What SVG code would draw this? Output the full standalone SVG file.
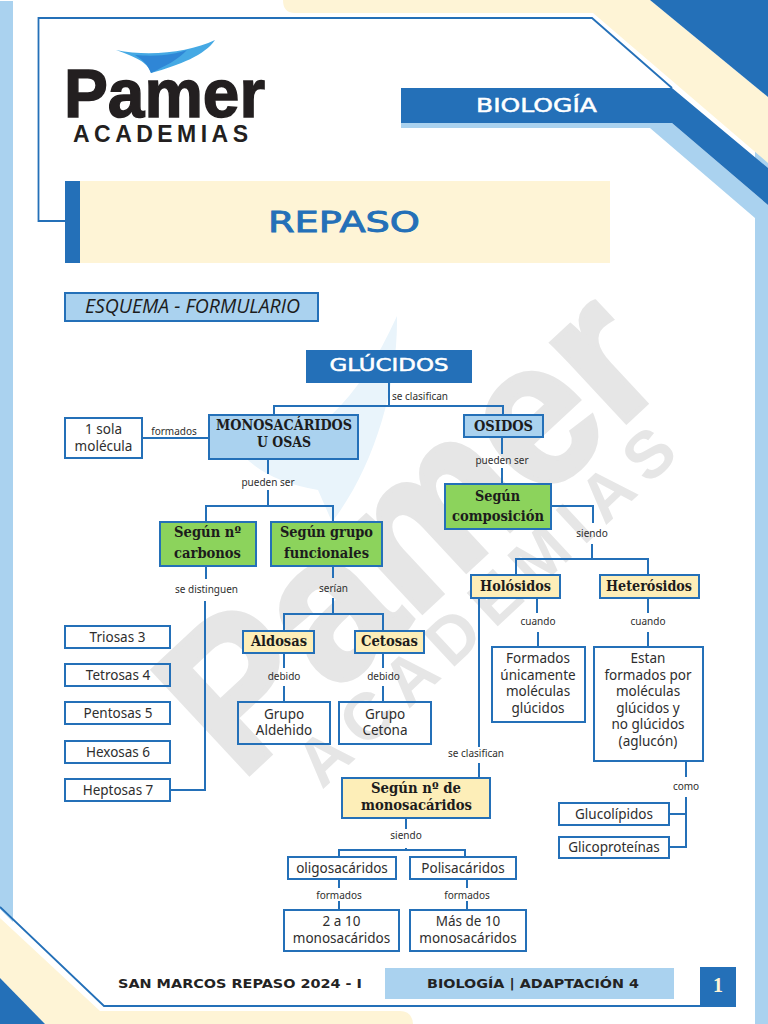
<svg xmlns="http://www.w3.org/2000/svg" width="768" height="1024" viewBox="0 0 768 1024">
<style>
.b{fill:none;stroke:#2470b8;stroke-width:2}
.n{stroke:#2470b8;stroke-width:2}
.w{fill:none}.lb{fill:#aad2ef}.gr{fill:#8cd35c}.cr{fill:#fdeeb8}
text{font-family:"Noto Sans","Liberation Sans",sans-serif}
.t{font-size:13.5px;fill:#2e2e2e;text-anchor:middle}
.l{font-size:10px;fill:#2e2e2e;text-anchor:middle}
.s{font-family:"DejaVu Serif","Liberation Serif",serif;font-weight:700;font-size:14.5px;fill:#1c1c1c;text-anchor:middle}
.h{font-family:"DejaVu Sans","Liberation Sans",sans-serif;font-weight:400;text-anchor:middle}
.f{font-family:"DejaVu Sans","Liberation Sans",sans-serif;font-weight:700;font-size:12.5px;fill:#232323}
</style>
<rect width="768" height="1024" fill="#fff"/>
<g id="background">
<path d="M0,1H13V922L0,909Z" fill="#aad2ef"/>
<path d="M755,218L650,128H401V123H672L768,205V1024H755Z" fill="#aad2ef"/>
<path d="M755,151L768,162V176L755,165Z" fill="#aad2ef"/>
<path d="M283,0H650L768,97V163L593,13H295Q283,13 283,0Z" fill="#fef4d6"/>
<path d="M650,0H768V97Z" fill="#2470b8"/>
<path d="M401,88H672L768,168V205L672,123H401Z" fill="#2470b8"/>
<path d="M0,918L100,1011H400Q412,1011 413,1024H45L0,978Z" fill="#fef4d6"/>
<path d="M0,978L45,1024H0Z" fill="#2470b8"/>
<path d="M66,221H38.500V18H592L672,88" fill="none" stroke="#2470b8" stroke-width="1.800"/>
<path d="M0,907L104,1006H706" fill="none" stroke="#2470b8" stroke-width="1.800"/>
</g>
<g id="watermark">
<path d="M397,316C398,390 372,470 332,522L318,490C275,482 250,468 232,442C290,462 350,420 397,316Z" fill="#e9f4fb"/>
<text transform="translate(240,782) rotate(-43)" textLength="590" lengthAdjust="spacingAndGlyphs" style="font-family:'Liberation Sans',sans-serif;font-weight:700;font-size:205px;fill:#e6e6e6;stroke:#e6e6e6;stroke-width:5">Pamer</text>
<text transform="translate(322,790) rotate(-43)" textLength="490" style="font-family:'Liberation Sans',sans-serif;font-weight:700;font-size:66px;fill:#e6e6e6">ACADEMIAS</text>
</g>
<g id="logo">
<path d="M116,50C150,57 190,52 215,40C205,55 180,65 151,73C148,62 135,57 116,50Z" fill="#45a9e4"/>
<path d="M135,55C160,57 175,54 187,50C178,60 165,66 151,73C148,65 143,60 135,55Z" fill="#2f86d6"/>
<text x="64" y="117" textLength="201" lengthAdjust="spacingAndGlyphs" style="font-family:'Liberation Sans',sans-serif;font-weight:700;font-size:68px;fill:#231f20;stroke:#231f20;stroke-width:1.500">Pamer</text>
<text x="73" y="142" textLength="175" style="font-family:'Liberation Sans',sans-serif;font-weight:700;font-size:23px;fill:#231f20">ACADEMIAS</text>
</g>
<g id="banner-biologia"><text class="h" x="536.500" y="112" textLength="121" lengthAdjust="spacingAndGlyphs" style="font-size:20px;fill:#fff;stroke:#fff;stroke-width:.5">BIOLOGÍA</text></g>
<g id="title">
<rect x="65" y="181" width="15" height="82" fill="#2470b8"/><rect x="80" y="181" width="530" height="82" fill="#fef4d6"/>
<text class="h" x="344" y="232" textLength="152" lengthAdjust="spacingAndGlyphs" style="font-size:29px;fill:#2470b8;stroke:#2470b8;stroke-width:.9">REPASO</text>
</g>
<g id="esquema">
<rect class="n lb" x="65" y="293" width="253" height="28"/>
<text x="192.500" y="313" text-anchor="middle" textLength="215" lengthAdjust="spacingAndGlyphs" style="font-family:'Open Sans',sans-serif;font-style:italic;font-weight:500;font-size:20px;fill:#1c1c1c">ESQUEMA - FORMULARIO</text>
</g>
<g id="connectors">
<path class="b" d="M389,383V406M274,414V406H503V414" stroke-width="1.500"/>
<path class="b" d="M142,438H209M268,459V474M268,490V506M206,521V506H333V521M206,566V579M205,601V790H171"/>
<path class="b" d="M333,566V578M333,598V614M284,630V614H383V630M284,653V668M284,686V702M383,653V668M383,686V702"/>
<path class="b" d="M502,437V454M502,468V484M551,506H593V523M592,544V559M516,575V559H648V575"/>
<path class="b" d="M479,598V747M479,763V777M537,598V613M538,632V647M648,598V613M648,632V647M686,761V777M686,797V847H669M686,814H669"/>
<path class="b" d="M406,818V829M406,848V850M339,857V850H465V857M339,879V888M339,901V910M467,879V888M467,901V910"/>
</g>
<g id="labels">
<text class="l" x="420" y="400">se clasifican</text>
<text class="l" x="174" y="435">formados</text>
<text class="l" x="268" y="486">pueden ser</text>
<text class="l" x="502" y="464">pueden ser</text>
<text class="l" x="206.500" y="593">se distinguen</text>
<text class="l" x="333.500" y="592">serían</text>
<text class="l" x="592" y="537">siendo</text>
<text class="l" x="284" y="680">debido</text>
<text class="l" x="383.500" y="680">debido</text>
<text class="l" x="538" y="625">cuando</text>
<text class="l" x="648" y="625">cuando</text>
<text class="l" x="476" y="757">se clasifican</text>
<text class="l" x="686" y="790">como</text>
<text class="l" x="406" y="839">siendo</text>
<text class="l" x="339" y="899">formados</text>
<text class="l" x="467" y="899">formados</text>
</g>
<g id="glucidos"><rect x="306" y="350" width="166" height="33" fill="#2470b8"/><text class="h" x="389" y="371" textLength="119" lengthAdjust="spacingAndGlyphs" style="font-size:17.500px;fill:#fff;stroke:#fff;stroke-width:.5">GLÚCIDOS</text></g>
<g id="monosacaridos"><rect class="n lb" x="209" y="415" width="149" height="44"/><text class="s" x="284" y="430" textLength="136" lengthAdjust="spacingAndGlyphs">MONOSACÁRIDOS</text><text class="s" x="284" y="447" textLength="54" lengthAdjust="spacingAndGlyphs">U OSAS</text></g>
<g id="sola"><rect class="n w" x="65" y="418" width="77" height="40"/><text class="t" x="103.500" y="434">1 sola</text><text class="t" x="103.500" y="451">molécula</text></g>
<g id="osidos"><rect class="n lb" x="464" y="415" width="79" height="22"/><text class="s" x="503.500" y="431" textLength="59" lengthAdjust="spacingAndGlyphs">OSIDOS</text></g>
<g id="segun-carbonos"><rect class="n gr" x="160" y="522" width="96" height="44"/><text class="s" x="207.500" y="537" textLength="67" lengthAdjust="spacingAndGlyphs">Según nº</text><text class="s" x="207.500" y="558" textLength="67" lengthAdjust="spacingAndGlyphs">carbonos</text></g>
<g id="segun-grupo"><rect class="n gr" x="271" y="522" width="111" height="44"/><text class="s" x="326.500" y="537" textLength="93" lengthAdjust="spacingAndGlyphs">Según grupo</text><text class="s" x="326.500" y="558" textLength="85" lengthAdjust="spacingAndGlyphs">funcionales</text></g>
<g id="segun-composicion"><rect class="n gr" x="445" y="484" width="106" height="45"/><text class="s" x="497.500" y="501" textLength="45" lengthAdjust="spacingAndGlyphs">Según</text><text class="s" x="498" y="521" textLength="92" lengthAdjust="spacingAndGlyphs">composición</text></g>
<g id="holosidos"><rect class="n cr" x="471" y="575" width="89" height="23"/><text class="s" x="515.500" y="591" textLength="71" lengthAdjust="spacingAndGlyphs">Holósidos</text></g>
<g id="heterosidos"><rect class="n cr" x="600" y="575" width="99" height="23"/><text class="s" x="649" y="591" textLength="86" lengthAdjust="spacingAndGlyphs">Heterósidos</text></g>
<g id="aldosas"><rect class="n cr" x="243" y="631" width="71" height="22"/><text class="s" x="279" y="646" textLength="56" lengthAdjust="spacingAndGlyphs">Aldosas</text></g>
<g id="cetosas"><rect class="n cr" x="355" y="631" width="69" height="22"/><text class="s" x="389.500" y="646" textLength="57" lengthAdjust="spacingAndGlyphs">Cetosas</text></g>
<g id="aldehido"><rect class="n w" x="238" y="702" width="92" height="42"/><text class="t" x="284" y="719">Grupo</text><text class="t" x="284" y="735">Aldehido</text></g>
<g id="cetona"><rect class="n w" x="339" y="702" width="92" height="42"/><text class="t" x="385" y="719">Grupo</text><text class="t" x="385" y="735">Cetona</text></g>
<g id="triosas"><rect class="n w" x="65" y="626" width="105" height="22"/><text class="t" x="117.500" y="642">Triosas 3</text></g>
<g id="tetrosas"><rect class="n w" x="65" y="664" width="105" height="22"/><text class="t" x="118" y="680">Tetrosas 4</text></g>
<g id="pentosas"><rect class="n w" x="65" y="702" width="105" height="22"/><text class="t" x="118" y="718">Pentosas 5</text></g>
<g id="hexosas"><rect class="n w" x="65" y="741" width="105" height="22"/><text class="t" x="118" y="757">Hexosas 6</text></g>
<g id="heptosas"><rect class="n w" x="65" y="779" width="105" height="22"/><text class="t" x="118" y="795">Heptosas 7</text></g>
<g id="formados"><rect class="n w" x="492" y="647" width="93" height="75"/><text class="t" x="538" y="663">Formados</text><text class="t" x="538" y="680">únicamente</text><text class="t" x="538" y="696">moléculas</text><text class="t" x="538" y="713">glúcidos</text></g>
<g id="estan"><rect class="n w" x="594" y="647" width="109" height="114"/><text class="t" x="648" y="663">Estan</text><text class="t" x="648" y="680">formados por</text><text class="t" x="648" y="696">moléculas</text><text class="t" x="648" y="713">glúcidos y</text><text class="t" x="648" y="729">no glúcidos</text><text class="t" x="648" y="746">(aglucón)</text></g>
<g id="glucolipidos"><rect class="n w" x="559" y="803" width="110" height="22"/><text class="t" x="614" y="819">Glucolípidos</text></g>
<g id="glicoproteinas"><rect class="n w" x="559" y="837" width="110" height="21"/><text class="t" x="614" y="852">Glicoproteínas</text></g>
<g id="segun-mono"><rect class="n cr" x="342" y="778" width="148" height="40"/><text class="s" x="416" y="793" textLength="90" lengthAdjust="spacingAndGlyphs">Según nº de</text><text class="s" x="416.500" y="810" textLength="111" lengthAdjust="spacingAndGlyphs">monosacáridos</text></g>
<g id="oligo"><rect class="n w" x="288" y="857" width="108" height="22"/><text class="t" x="342" y="873">oligosacáridos</text></g>
<g id="poli"><rect class="n w" x="410" y="857" width="106" height="22"/><text class="t" x="463" y="873">Polisacáridos</text></g>
<g id="dos-diez"><rect class="n w" x="284" y="910" width="115" height="41"/><text class="t" x="341.500" y="926">2 a 10</text><text class="t" x="341.500" y="943">monosacáridos</text></g>
<g id="mas-diez"><rect class="n w" x="410" y="910" width="116" height="41"/><text class="t" x="468" y="926">Más de 10</text><text class="t" x="468" y="943">monosacáridos</text></g>
<g id="footer">
<text class="f" x="118" y="988" textLength="244" lengthAdjust="spacingAndGlyphs">SAN MARCOS REPASO 2024 - I</text>
<rect x="385" y="968" width="289" height="31" fill="#aad2ef"/>
<text class="f" x="427" y="988" textLength="212" lengthAdjust="spacingAndGlyphs">BIOLOGÍA | ADAPTACIÓN 4</text>
<rect x="700" y="967" width="36" height="40" fill="#2470b8"/>
<text x="718" y="992" text-anchor="middle" style="font-family:'Liberation Serif',serif;font-weight:700;font-size:20px;fill:#fef4d6">1</text>
</g>
</svg>
